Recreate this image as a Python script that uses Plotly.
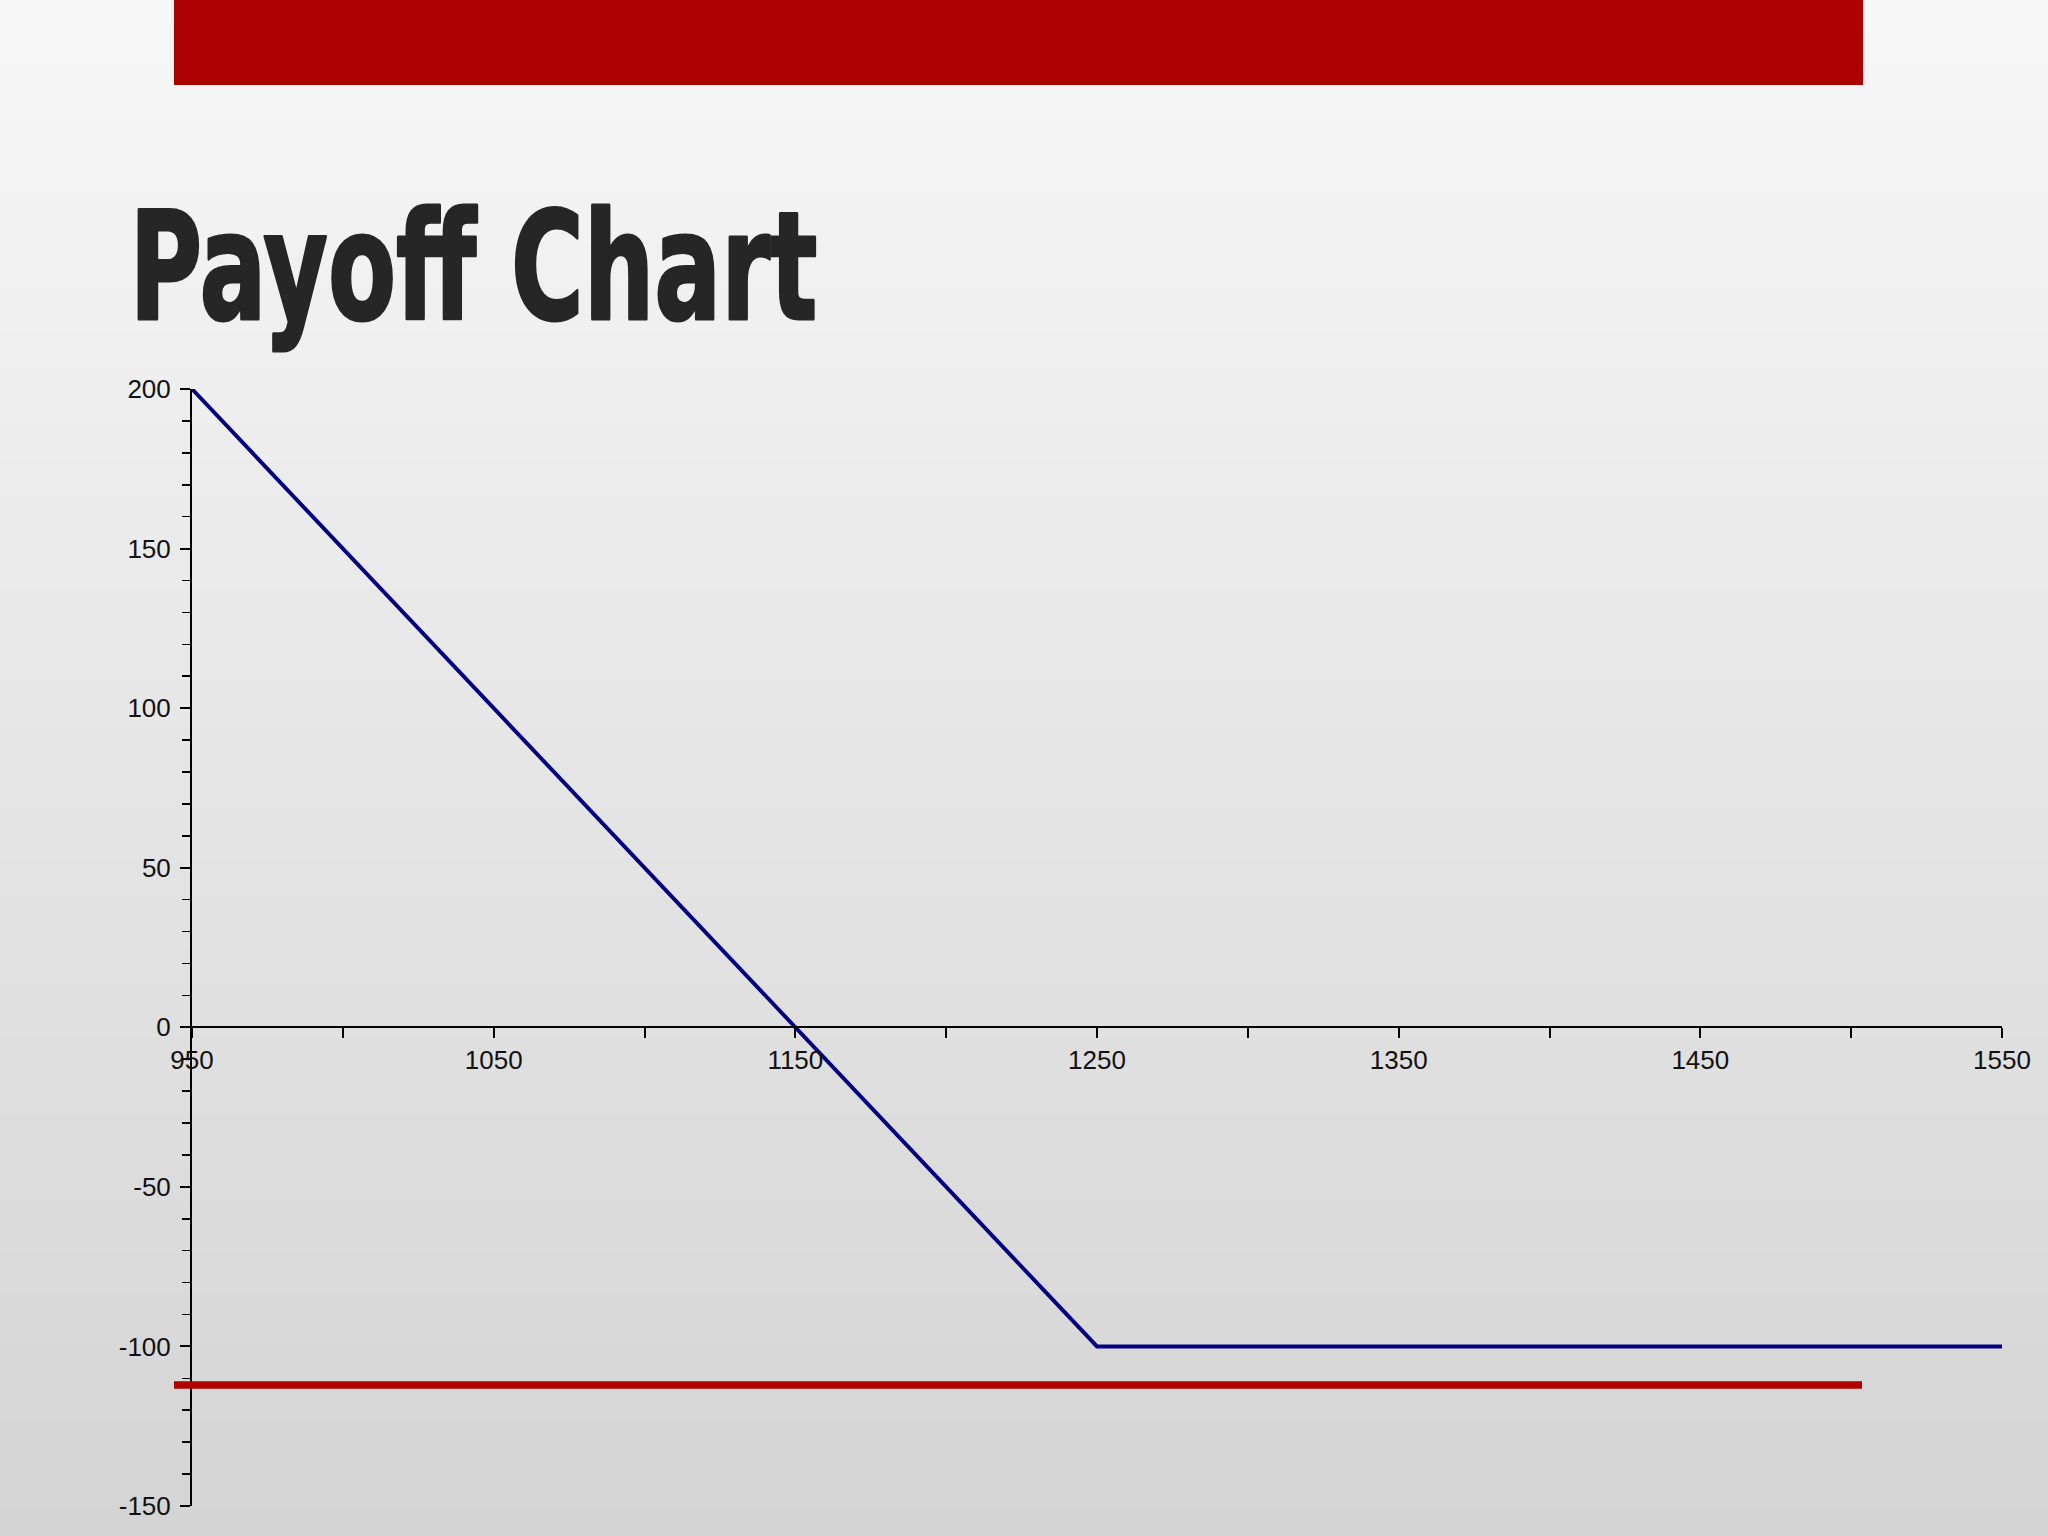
import plotly.graph_objects as go

# ---- data ----
underlying_price = [950, 1250, 1550]
payoff = [200, -100, -100]
x_tick_values = [950, 1050, 1150, 1250, 1350, 1450, 1550]
x_tick_labels = ["950", "1050", "1150", "1250", "1350", "1450", "1550"]
y_tick_values = [-150, -100, -50, 0, 50, 100, 150, 200]
y_tick_labels = ["-150", "-100", "-50", "0", "50", "100", "150", "200"]
x_range = [950, 1550]
y_range = [-150, 200]
title_text = "Payoff Chart"

# ---- layout geometry (pixels) ----
W, H = 2048, 1536
L, R, T, B = 192, 2002, 389, 1506   # plot-area edges in pixels
pw, ph = R - L, B - T
TITLE_W = 688


def px_x(p):
    return (p - L) / pw


def px_y(p):
    return (B - p) / ph


fig = go.Figure()
fig.add_trace(go.Scatter(
    x=underlying_price, y=payoff, mode="lines",
    line=dict(color="#000080", width=3.9),
    showlegend=False, hoverinfo="skip", cliponaxis=False,
))

shapes = []
# background gradient
nb = 120
top_c, bot_c = 247, 212
for i in range(nb):
    y0p = H * i / nb
    y1p = H * (i + 1) / nb + 1
    c = round(top_c + (bot_c - top_c) * (i + 0.5) / nb)
    shapes.append(dict(type="rect", xref="paper", yref="paper",
                       x0=px_x(-2), x1=px_x(W + 2), y0=px_y(y1p), y1=px_y(y0p),
                       fillcolor=f"rgb({c},{c},{c})", line=dict(width=0),
                       layer="below"))
# top red banner
shapes.append(dict(type="rect", xref="paper", yref="paper",
                   x0=px_x(174), x1=px_x(1863), y0=px_y(85), y1=px_y(-5),
                   fillcolor="#ad0000", line=dict(width=0), layer="below"))
# red rule line
shapes.append(dict(type="line", xref="paper", yref="paper",
                   x0=px_x(174), x1=px_x(1862), y0=px_y(1385), y1=px_y(1385),
                   line=dict(color="#b00000", width=7.5), layer="above"))

fig.update_layout(
    width=W, height=H,
    margin=dict(l=L, r=W - R, t=T, b=H - B, pad=0),
    paper_bgcolor="#ececec", plot_bgcolor="rgba(0,0,0,0)",
    shapes=shapes,
    font=dict(family="Liberation Sans, Arial, sans-serif", color="#111111"),
    xaxis=dict(
        range=x_range, anchor="free",
        position=(0 - y_range[0]) / (y_range[1] - y_range[0]),
        showline=True, linecolor="#000000", linewidth=2,
        showgrid=False, zeroline=False,
        tickmode="array", tickvals=x_tick_values, ticktext=x_tick_labels,
        ticks="outside", ticklen=10, tickwidth=2, tickcolor="#000000",
        minor=dict(dtick=50, tick0=950, ticks="outside", ticklen=10,
                   tickwidth=2, tickcolor="#000000"),
        tickfont=dict(size=26, color="#111111"),
    ),
    yaxis=dict(
        range=y_range,
        showline=True, linecolor="#000000", linewidth=2,
        showgrid=False, zeroline=False,
        tickmode="array", tickvals=y_tick_values, ticktext=y_tick_labels,
        ticks="outside", ticklen=10, tickwidth=2, tickcolor="#000000",
        minor=dict(dtick=10, tick0=0, ticks="outside", ticklen=8,
                   tickwidth=1.6, tickcolor="#000000"),
        tickfont=dict(size=26, color="#111111"),
        ticklabelstandoff=4,
    ),
    annotations=[dict(
        text=title_text, xref="paper", yref="paper",
        x=px_x(126), y=px_y(267), xanchor="left", yanchor="middle",
        showarrow=False,
        font=dict(family="DejaVu Sans, sans-serif", weight=700,
                  size=150, color="#262626"),
    )],
)

post = (
    "document.body.style.margin='0';"
    "var gd=document.getElementById('{plot_id}');"
    "var t=gd.querySelector('.annotation-text');"
    "if(t){var b=t.getBBox();"
    "t.setAttribute('text-anchor','start');"
    "t.setAttribute('x',String(b.x+1.5));"
    "t.setAttribute('textLength','%d');"
    "t.setAttribute('lengthAdjust','spacingAndGlyphs');"
    "t.style.stroke='#262626';t.style.strokeWidth='3px';"
    "t.style.strokeLinejoin='round';}" % TITLE_W
)

fig.write_html("out.html", post_script=post,
               config={"displayModeBar": False, "staticPlot": True})
